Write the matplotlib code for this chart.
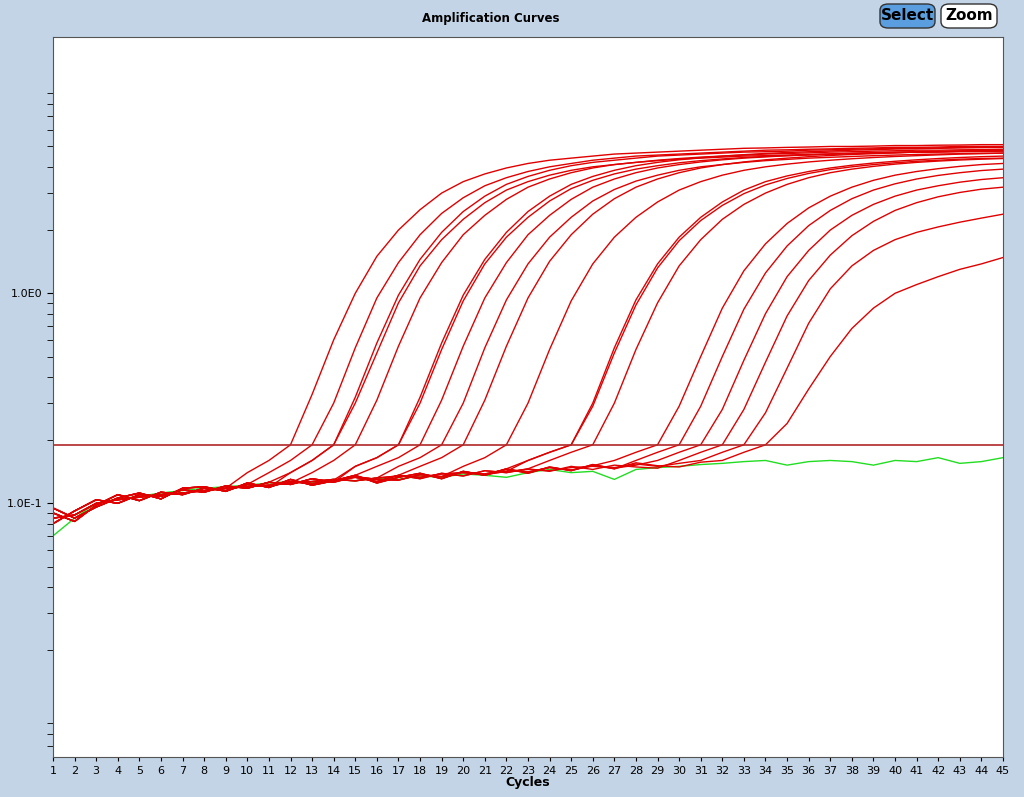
import matplotlib.pyplot as plt
from matplotlib.patches import FancyBboxPatch
import matplotlib.ticker as mt

cycles = list(range(1, 46))
threshold = 0.19

base_a = [.085, .088, .100, .104, .107, .110, .112, .115, .118, .120, .122, .125, .127, .130, .128, .132,
          .135, .133, .138, .140, .137, .142, .145, .143, .148, .150, .147, .152, .155, .153, .150, .155]
base_b = [.090, .082, .098, .110, .103, .113, .110, .118, .115, .123, .120, .127, .124, .129, .133, .127,
          .136, .131, .139, .135, .143, .140, .146, .142, .150, .145, .152, .149, .147, .156, .152, .155]
base_c = [.080, .092, .104, .100, .110, .108, .116, .113, .121, .118, .126, .123, .131, .126, .134, .130,
          .129, .137, .134, .141, .138, .145, .141, .148, .144, .151, .148, .154, .150, .155, .152, .158]
base_d = [.095, .085, .096, .106, .112, .105, .118, .120, .114, .125, .119, .130, .122, .128, .136, .125,
          .133, .139, .131, .142, .136, .146, .139, .149, .143, .153, .146, .156, .151, .149, .157, .154]
bases = {'a': base_a, 'b': base_b, 'c': base_c, 'd': base_d}

# (threshold cycle, baseline, two values before threshold, values after threshold)
curves = [
    (12, 'a', [.14, .16], [.33, .6, 1.0, 1.5, 2.0, 2.5, 3.0, 3.4, 3.7, 3.95, 4.15, 4.3, 4.4, 4.5, 4.6, 4.65, 4.7, 4.75, 4.8, 4.85, 4.9, 4.92, 4.95, 4.97, 5.0, 5.0, 5.02, 5.05, 5.05, 5.07, 5.08, 5.1, 5.1]),
    (13, 'b', [.14, .16], [.3, .55, .95, 1.4, 1.9, 2.4, 2.85, 3.25, 3.55, 3.8, 4.0, 4.15, 4.3, 4.4, 4.5, 4.55, 4.6, 4.65, 4.7, 4.75, 4.8, 4.82, 4.85, 4.87, 4.9, 4.92, 4.95, 4.95, 4.97, 5.0, 5.0, 5.0]),
    (14, 'c', [.14, .16], [.32, .58, .98, 1.45, 1.95, 2.45, 2.9, 3.3, 3.6, 3.85, 4.05, 4.2, 4.3, 4.4, 4.5, 4.55, 4.6, 4.65, 4.7, 4.72, 4.75, 4.8, 4.82, 4.85, 4.87, 4.9, 4.9, 4.92, 4.95, 4.95, 4.97]),
    (14, 'd', [.14, .16], [.3, .52, .9, 1.35, 1.8, 2.25, 2.7, 3.1, 3.4, 3.65, 3.85, 4.0, 4.1, 4.2, 4.28, 4.35, 4.4, 4.45, 4.5, 4.52, 4.55, 4.58, 4.6, 4.62, 4.65, 4.67, 4.7, 4.7, 4.72, 4.73, 4.75]),
    (15, 'a', [.14, .16], [.31, .56, .95, 1.4, 1.9, 2.35, 2.8, 3.2, 3.5, 3.75, 3.95, 4.1, 4.2, 4.3, 4.38, 4.45, 4.5, 4.55, 4.6, 4.63, 4.66, 4.7, 4.72, 4.75, 4.77, 4.8, 4.8, 4.82, 4.83, 4.85]),
    (17, 'b', [.15, .165], [.32, .58, .98, 1.45, 1.95, 2.45, 2.9, 3.3, 3.6, 3.85, 4.05, 4.2, 4.32, 4.42, 4.5, 4.57, 4.63, 4.68, 4.72, 4.76, 4.8, 4.83, 4.86, 4.88, 4.9, 4.92, 4.94, 4.95]),
    (17, 'c', [.15, .165], [.3, .54, .92, 1.38, 1.85, 2.3, 2.75, 3.15, 3.45, 3.7, 3.9, 4.05, 4.18, 4.28, 4.36, 4.43, 4.48, 4.52, 4.56, 4.6, 4.63, 4.66, 4.68, 4.7, 4.72, 4.74, 4.75, 4.76]),
    (18, 'd', [.15, .165], [.31, .56, .95, 1.4, 1.9, 2.35, 2.8, 3.2, 3.5, 3.75, 3.95, 4.1, 4.22, 4.32, 4.4, 4.46, 4.52, 4.56, 4.6, 4.64, 4.67, 4.7, 4.72, 4.74, 4.76, 4.78, 4.8]),
    (19, 'a', [.15, .165], [.3, .55, .93, 1.38, 1.85, 2.3, 2.75, 3.12, 3.42, 3.65, 3.85, 4.0, 4.1, 4.2, 4.28, 4.34, 4.4, 4.44, 4.48, 4.52, 4.55, 4.58, 4.6, 4.62, 4.64, 4.65]),
    (20, 'b', [.15, .165], [.31, .56, .95, 1.42, 1.9, 2.38, 2.82, 3.2, 3.5, 3.75, 3.95, 4.1, 4.22, 4.32, 4.4, 4.47, 4.53, 4.58, 4.62, 4.66, 4.7, 4.72, 4.75, 4.77, 4.8]),
    (22, 'c', [.15, .165], [.3, .54, .92, 1.38, 1.85, 2.3, 2.72, 3.1, 3.4, 3.65, 3.85, 4.0, 4.12, 4.22, 4.3, 4.37, 4.43, 4.48, 4.52, 4.56, 4.6, 4.62, 4.65]),
    (25, 'd', [.16, .175], [.3, .55, .93, 1.38, 1.85, 2.3, 2.72, 3.1, 3.4, 3.62, 3.8, 3.95, 4.07, 4.17, 4.25, 4.32, 4.38, 4.43, 4.47, 4.5]),
    (25, 'a', [.16, .175], [.29, .52, .88, 1.32, 1.78, 2.22, 2.62, 2.98, 3.28, 3.52, 3.72, 3.88, 4.0, 4.1, 4.18, 4.25, 4.3, 4.35, 4.38, 4.4]),
    (26, 'b', [.16, .175], [.3, .54, .9, 1.35, 1.8, 2.25, 2.65, 3.0, 3.3, 3.55, 3.75, 3.9, 4.02, 4.12, 4.2, 4.26, 4.31, 4.35, 4.38]),
    (29, 'c', [.16, .175], [.29, .5, .85, 1.28, 1.72, 2.15, 2.55, 2.9, 3.2, 3.45, 3.65, 3.8, 3.92, 4.02, 4.1, 4.15]),
    (30, 'd', [.16, .175], [.29, .5, .84, 1.25, 1.68, 2.1, 2.48, 2.82, 3.1, 3.32, 3.5, 3.64, 3.75, 3.84, 3.9]),
    (31, 'a', [.16, .175], [.28, .48, .8, 1.2, 1.6, 2.0, 2.35, 2.65, 2.9, 3.1, 3.25, 3.38, 3.48, 3.55]),
    (32, 'b', [.16, .175], [.28, .47, .78, 1.15, 1.52, 1.88, 2.2, 2.48, 2.7, 2.88, 3.02, 3.13, 3.2]),
    (33, 'c', [.16, .175], [.27, .44, .72, 1.05, 1.35, 1.6, 1.8, 1.95, 2.07, 2.18, 2.28, 2.38]),
    (34, 'd', [.16, .175], [.24, .35, .5, .68, .85, 1.0, 1.1, 1.2, 1.3, 1.38, 1.48]),
]

negative = [.07, .085, .1, .105, .108, .112, .115, .118, .12, .122, .125, .127, .126, .13, .128, .132,
            .13, .135, .133, .138, .136, .133, .14, .145, .14, .142, .13, .145, .148, .15, .153, .155,
            .158, .16, .152, .158, .16, .158, .152, .16, .158, .165, .155, .158, .165]

bg = '#c3d4e6'
fig = plt.figure(figsize=(10.24, 7.97), dpi=100, facecolor=bg)
ax = fig.add_axes([53 / 1024, 40 / 797, 950 / 1024, 720 / 797])

ax.plot(cycles, negative, color='#22dd22', lw=1)
for c, b, pre, tail in curves:
    vals = bases[b][:c - 3] + pre + [threshold] + tail
    ax.plot(cycles, vals, color='#e00000', lw=1)
ax.axhline(threshold, color='#b02828', lw=1.2)

ax.set_yscale('log')
ax.set_ylim(0.0062, 16.6)
ax.set_xlim(1, 45)
ax.set_xticks(cycles)
ax.tick_params(axis='x', labelsize=8, length=3)
ax.yaxis.set_major_locator(mt.FixedLocator([0.1, 1.0]))
ax.yaxis.set_major_formatter(mt.FixedFormatter(['1.0E-1', '1.0E0']))
ax.yaxis.set_minor_locator(mt.LogLocator(subs=range(2, 10)))
ax.yaxis.set_minor_formatter(mt.NullFormatter())
ax.tick_params(axis='y', labelsize=8, length=4, which='both')
ax.set_xlabel('Cycles', fontsize=9, fontweight='bold', labelpad=0)
for s in ax.spines.values():
    s.set_color('#555555')

fig.text(0.479, 0.977, 'Amplification Curves', ha='center', va='center', fontsize=8.5, fontweight='bold')
for x, w, label, fc in [(880, 55, 'Select', '#5b9ee0'), (941, 56, 'Zoom', 'white')]:
    fig.patches.append(FancyBboxPatch((x / 1024, 769 / 797), w / 1024, 24 / 797,
                                      boxstyle='round,pad=0,rounding_size=0.008', transform=fig.transFigure,
                                      fc=fc, ec='#333333', lw=1))
    fig.text((x + w / 2) / 1024, 781 / 797, label, ha='center', va='center', fontsize=11, fontweight='bold')

fig.savefig('out.png', dpi=100, facecolor=bg)
